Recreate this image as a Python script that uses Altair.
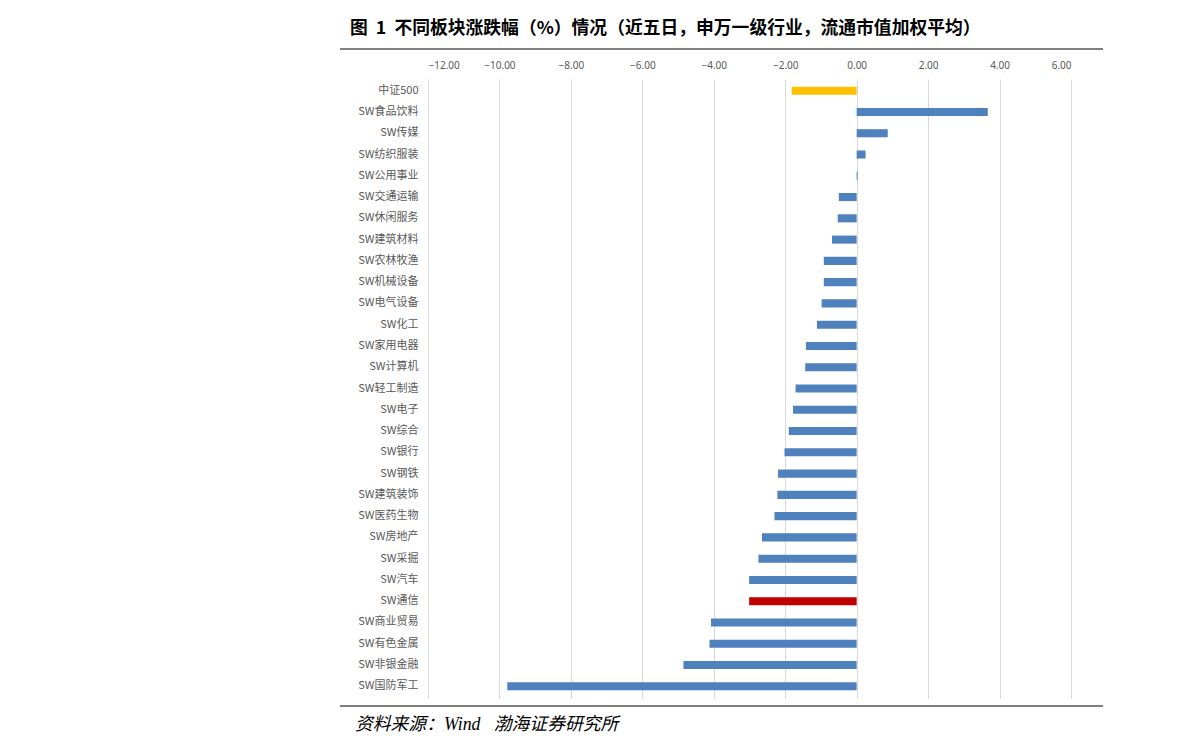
import altair as alt
import pandas as pd

# Five-day price change (%) by Shenwan level-1 industry, float-cap weighted
industries = [
    "中证500", "SW食品饮料", "SW传媒", "SW纺织服装", "SW公用事业", "SW交通运输",
    "SW休闲服务", "SW建筑材料", "SW农林牧渔", "SW机械设备", "SW电气设备", "SW化工",
    "SW家用电器", "SW计算机", "SW轻工制造", "SW电子", "SW综合", "SW银行",
    "SW钢铁", "SW建筑装饰", "SW医药生物", "SW房地产", "SW采掘", "SW汽车",
    "SW通信", "SW商业贸易", "SW有色金属", "SW非银金融", "SW国防军工",
]
changes = [
    -1.82, 3.67, 0.87, 0.25, 0.03, -0.50,
    -0.53, -0.69, -0.92, -0.92, -0.98, -1.11,
    -1.42, -1.44, -1.71, -1.78, -1.90, -2.02,
    -2.20, -2.22, -2.30, -2.65, -2.75, -3.01,
    -3.01, -4.08, -4.12, -4.85, -9.78,
]
groups = ["index"] + ["industry"] * 23 + ["focus"] + ["industry"] * 4

x_ticks = [-12, -10, -8, -6, -4, -2, 0, 2, 4, 6]

# non-breaking spaces keep the gaps from collapsing in SVG text
title_text = "图\u00a0\u00a01\u00a0\u00a0不同板块涨跌幅（%）情况（近五日，申万一级行业，流通市值加权平均）"
source_text = "资料来源：Wind\u00a0\u00a0\u00a0渤海证券研究所"

df = pd.DataFrame({"industry": industries, "change": changes, "group": groups})

W, H = 643, 619

bars = alt.Chart(df).mark_bar().encode(
    y=alt.Y(
        "industry:N",
        sort=industries,
        scale=alt.Scale(paddingInner=0.62, paddingOuter=0.36),
        axis=alt.Axis(
            title=None, ticks=False, domain=False, grid=False,
            labelFont="Noto Sans CJK SC", labelFontSize=11, labelColor="#595959",
            labelPadding=10,
        ),
    ),
    x=alt.X(
        "change:Q",
        scale=alt.Scale(domain=[-12, 6], nice=False, zero=True),
        axis=alt.Axis(
            orient="top", title=None, values=x_ticks, format=".2f",
            ticks=False, domain=False, grid=True, gridColor="#d9d9d9",
            gridWidth=1, labelFont="Noto Sans", labelFontSize=10,
            labelColor="#595959", labelPadding=9,
        ),
    ),
    color=alt.Color(
        "group:N",
        scale=alt.Scale(domain=["index", "industry", "focus"],
                        range=["#ffc000", "#4f81bd", "#c00000"]),
        legend=None,
    ),
)

title_df = pd.DataFrame({"t": [title_text]})
source_df = pd.DataFrame({"t": [source_text]})

title = alt.Chart(title_df).mark_text(
    align="left", baseline="middle", font="Noto Sans CJK SC",
    fontSize=17.8, fontWeight="bold", color="#000000",
).encode(text="t:N", x=alt.value(-78), y=alt.value(-50))

source = alt.Chart(source_df).mark_text(
    align="left", baseline="middle", font="Liberation Serif, Noto Sans CJK SC",
    fontSize=17.8, fontStyle="italic", color="#000000",
).encode(text="t:N", x=alt.value(-73), y=alt.value(646))

top_rule = alt.Chart(title_df).mark_rule(color="#000000", strokeWidth=1.2).encode(
    x=alt.value(-88), x2=alt.value(675), y=alt.value(-30)
)
bottom_rule = alt.Chart(title_df).mark_rule(color="#000000", strokeWidth=1.2).encode(
    x=alt.value(-88), x2=alt.value(675), y=alt.value(627)
)

chart = alt.layer(bars, top_rule, bottom_rule, title, source).properties(
    width=W, height=H,
    autosize=alt.AutoSizeParams(type="none"),
    padding={"left": 428, "top": 79, "right": 120, "bottom": 57},
    background="#ffffff",
).configure_view(stroke=None)

chart.save("out.html", embed_options={"renderer": "svg", "actions": False})
